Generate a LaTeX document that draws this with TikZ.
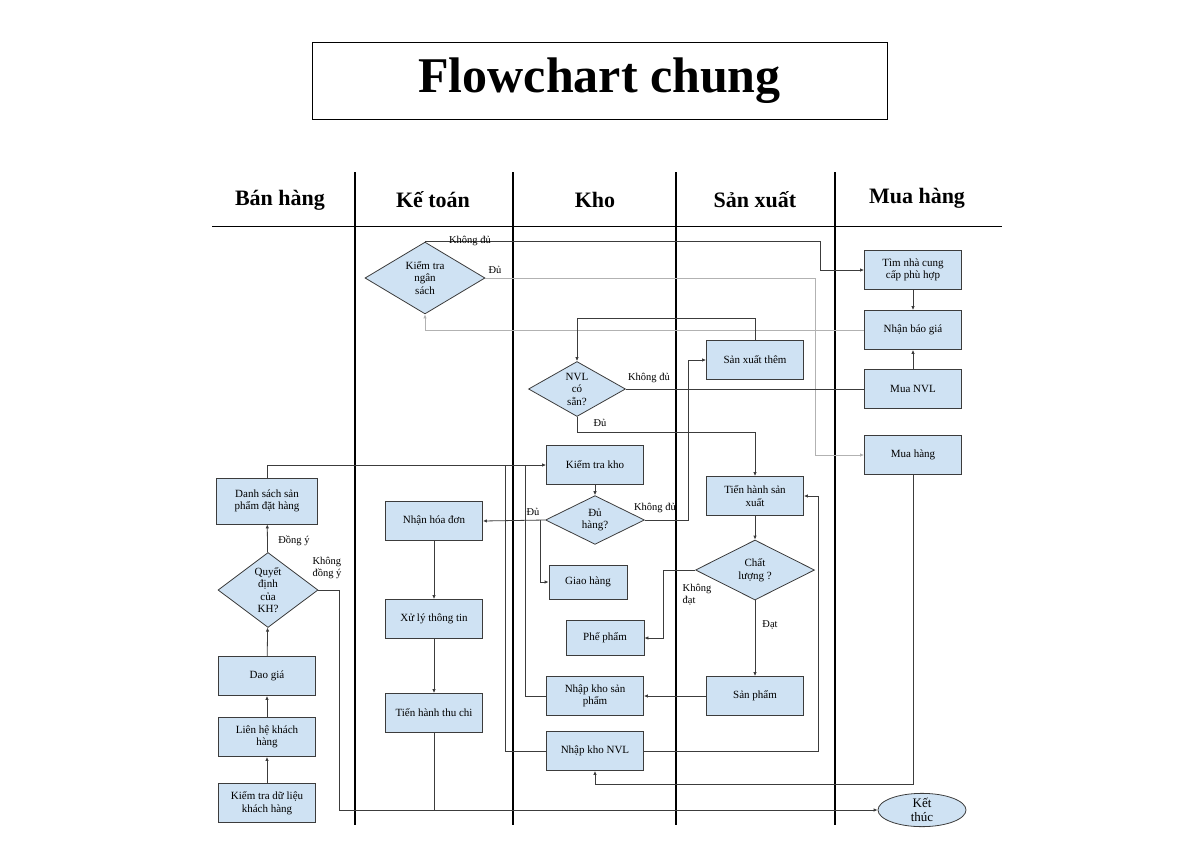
\documentclass[tikz,border=0pt]{standalone}
\usepackage{fontspec}
\setmainfont{Liberation Serif}
\usetikzlibrary{shapes.geometric,arrows.meta}
\definecolor{boxblue}{RGB}{207,226,243}
\definecolor{linegray}{RGB}{60,60,60}

\begin{document}
\begin{tikzpicture}[x=1pt,y=-1pt,
  box/.style={rectangle,draw=linegray,thick,fill=boxblue,minimum width=97pt,minimum height=39pt,align=center,font=\fontsize{11}{12.5}\selectfont,inner sep=1pt},
  dec/.style={diamond,draw=linegray,thick,fill=boxblue,align=center,font=\fontsize{11}{12.5}\selectfont,inner sep=0pt},
  lbl/.style={font=\fontsize{10.5}{12}\selectfont,align=left},
  head/.style={font=\bfseries\fontsize{22}{26}\selectfont},
  lane/.style={line width=1.5pt},
  arr/.style={draw=linegray,thick,-{Latex[length=4pt,width=3.5pt]}},
  arrl/.style={draw=black!30,thick,-{Latex[length=4pt,width=3.5pt]}},
  line/.style={draw=linegray,thick}]
\useasboundingbox (0,0) rectangle (1200,849);
\node [draw,thick,minimum width=575pt,minimum height=77pt,font=\bfseries\fontsize{50}{56}\selectfont] (title) at (599.5,80.5) {Flowchart chung};
\node [head] (h1) at (280,200) {Bán hàng};
\node [head] (h2) at (433,200) {Kế toán};
\node [head] (h3) at (595,200) {Kho};
\node [head] (h4) at (755,200) {Sản xuất};
\node [head] (h5) at (917,198) {Mua hàng};
\draw [line width=1pt] (212,226) -- (1002,226);
\foreach \x in {355,513,676,835}
  \draw [lane] (\x,172) -- (\x,825);

\node [dec,minimum width=120pt,minimum height=56pt] (ns) at (425,278) {Kiểm tra\\ngân\\sách};
\node [box] (tim) at (913,270) {Tìm nhà cung\\cấp phù hợp};
\node [box] (nbg) at (913,330) {Nhận báo giá};
\node [box] (mnvl) at (913,389) {Mua NVL};
\node [box] (mh) at (913,455) {Mua hàng};
\node [box] (sxt) at (755,360) {Sản xuất thêm};
\node [dec,minimum width=97pt,minimum height=52pt] (nvl) at (577,389) {NVL\\có\\sẵn?};
\node [box] (ktk) at (595,465) {Kiểm tra kho};
\node [dec,minimum width=99pt,minimum height=45pt] (dh) at (595,520) {Đủ\\hàng?};
\node [box] (thsx) at (755,496) {Tiến hành sản\\xuất};
\node [dec,minimum width=119pt,minimum height=60pt] (cl) at (755,570) {Chất\\lượng ?};
\node [box,minimum width=78pt,minimum height=34pt] (gh) at (588,582) {Giao hàng};
\node [box,minimum width=78pt,minimum height=35pt] (pp) at (605,638) {Phế phẩm};
\node [box] (nksp) at (595,696) {Nhập kho sản\\phẩm};
\node [box] (sp) at (755,696) {Sản phẩm};
\node [box] (nknvl) at (595,751) {Nhập kho NVL};
\node [box] (nhd) at (434,521) {Nhận hóa đơn};
\node [box] (xl) at (434,619) {Xử lý thông tin};
\node [box] (thtc) at (434,713) {Tiến hành thu chi};
\node [box,minimum width=101pt,minimum height=46pt] (ds) at (267,501) {Danh sách sản\\phẩm đặt hàng};
\node [dec,minimum width=100pt,minimum height=75pt] (qd) at (268,590) {Quyết\\định\\của\\KH?};
\node [box] (dg) at (267,676) {Dao giá};
\node [box] (lh) at (267,737) {Liên hệ khách\\hàng};
\node [box] (kd) at (267,803) {Kiểm tra dữ liệu\\khách hàng};
\node [ellipse,draw=linegray,thick,fill=boxblue,minimum width=88pt,minimum height=32pt,inner sep=0pt,align=center,font=\fontsize{13}{14}\selectfont] (kt) at (922,810) {Kết\\thúc};

\draw [arr] (ns.north) -| (820,270) -- (tim.west);
\draw [arrl] (ns.east) -| (815,455) -- (mh.west);
\draw [arrl] (nbg.west) -| (ns.south);
\draw [arr] (tim) -- (nbg);
\draw [arr] (mnvl) -- (nbg);
\draw [line] (nvl.east) -- (mnvl.west);
\draw [arr] (sxt.north) |- (577,318) -- (nvl.north);
\draw [arr] (nvl.south) |- (755,432) -- (thsx.north);
\draw [arr] (dh.east) -| (688,360) -- (sxt.west);
\draw [arr] (ktk) -- (dh);
\draw [arr] (dh.west) -- (nhd.east);
\draw [arr] (540,520) |- (gh.west);
\draw [arr] (ds.north) |- (ktk.west);
\draw [line] (nksp.west) -| (525,465);
\draw [line] (nknvl.west) -| (505,465);
\draw [arr] (nknvl.east) -| (818,496) -- (thsx.east);
\draw [arr] (thsx) -- (cl);
\draw [arr] (cl.west) -| (663,638) -- (pp.east);
\draw [arr] (cl) -- (sp);
\draw [arr] (sp) -- (nksp);
\draw [arr] (mh.south) |- (595,784) -- (nknvl.south);
\draw [arr] (nhd) -- (xl);
\draw [arr] (xl) -- (thtc);
\draw [line] (thtc.south) -- (434,810);
\draw [arr] (qd.east) -| (339,810) -- (kt.west);
\draw [arr] (kd) -- (lh);
\draw [arr] (lh) -- (dg);
\draw [arr] (dg) -- (qd);
\draw [arr] (qd) -- (ds);

\node [lbl] (l1) at (470,241) {Không đủ};
\node [lbl] (l2) at (495,270) {Đủ};
\node [lbl] (l3) at (649,378) {Không đủ};
\node [lbl] (l4) at (600,423) {Đủ};
\node [lbl] (l5) at (655,508) {Không đủ};
\node [lbl] (l6) at (533,512) {Đủ};
\node [lbl] (l7) at (697,595) {Không\\đạt};
\node [lbl] (l8) at (770,625) {Đạt};
\node [lbl] (l9) at (327,568) {Không\\đồng ý};
\node [lbl] (l10) at (294,541) {Đồng ý};
\end{tikzpicture}
\end{document}
